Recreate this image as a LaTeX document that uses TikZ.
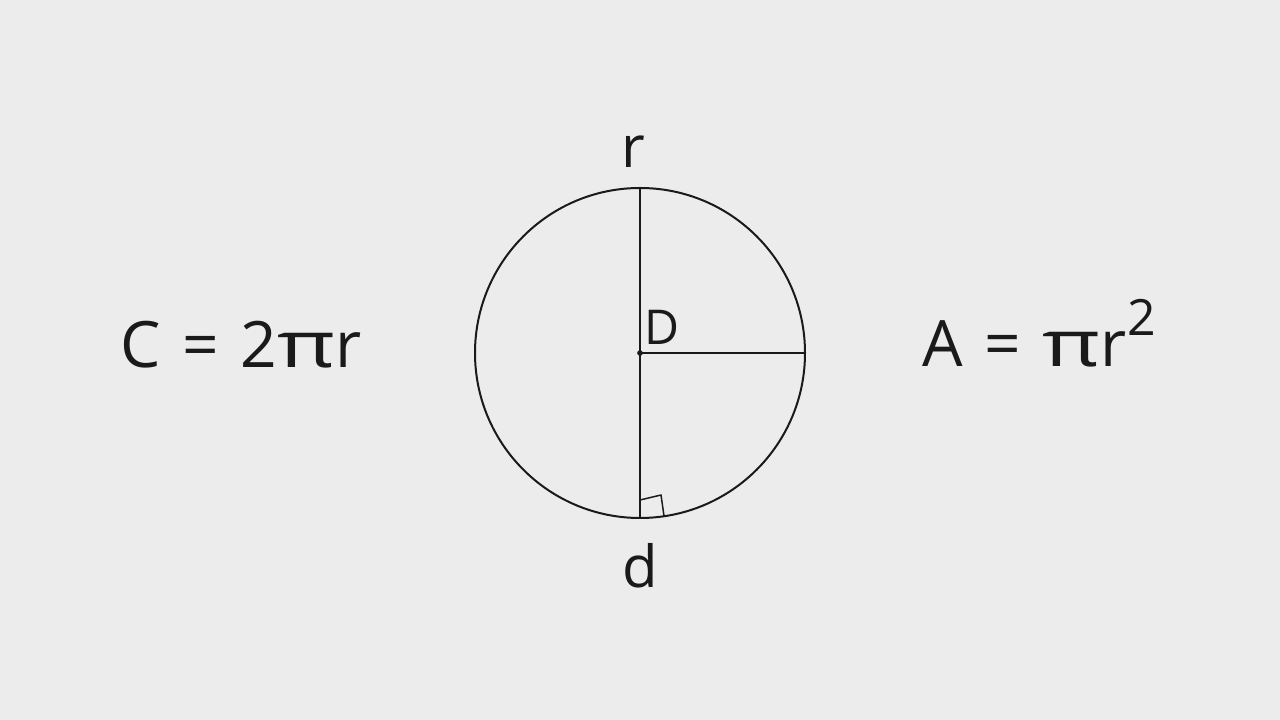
\documentclass[tikz,border=0pt]{standalone}
\usepackage{fontspec}
\setmainfont{Open Sans}
\usetikzlibrary{calc}
\definecolor{bg}{HTML}{ECECEC}
\definecolor{ink}{HTML}{1A1A1A}
\newcommand{\widepi}{\scalebox{1.4}[1]{π}}
\tikzset{
  base/.style={draw=ink, line width=2pt, line cap=round, line join=round},
  seg/.style={draw=ink, line width=1.5pt, line cap=round, line join=round},
  dot/.style={circle, fill=ink, inner sep=2pt},
  lab/.style={text=ink, font=\fontsize{58}{70}\selectfont, inner sep=0pt, anchor=base},
  labs/.style={lab, font=\fontsize{48}{58}\selectfont},
  formula/.style={lab, font=\fontsize{64}{76}\selectfont},
}

\begin{document}
\begin{tikzpicture}[x=1pt,y=1pt]
  \fill[bg] (0,0) rectangle (1280,720);
  \def\r{165}
  \coordinate (T) at (640,532);
  \coordinate (B) at (640,202);
  \coordinate (R) at (805,367);

  \draw[base] (640,367) circle (\r);
  \node[dot] (O) at (640,367) {};

  \draw[seg] (T) -- (B);
  \draw[seg] (O.center) -- (R);
  % right angle mark at the bottom
  \draw[seg] ($(B)+(0,18)$) -- ($(B)+(21,23)$) -- ($(B)+(24,2)$);

  \node[lab] (rlab) at (633,552) {r};
  \node[lab] (dlab) at (640,132) {d};
  \node[labs,anchor=base west] (Dlab) at (644,375) {D};

  \node[formula] (circ) at (241,352) {C\hspace{5pt} = \hspace{5pt}2\widepi r};
  \node[formula] (area) at (1039,353) {A\hspace{5pt} = \hspace{5pt}\widepi r\raisebox{31pt}{\fontsize{50}{60}\selectfont 2}};
\end{tikzpicture}
\end{document}
